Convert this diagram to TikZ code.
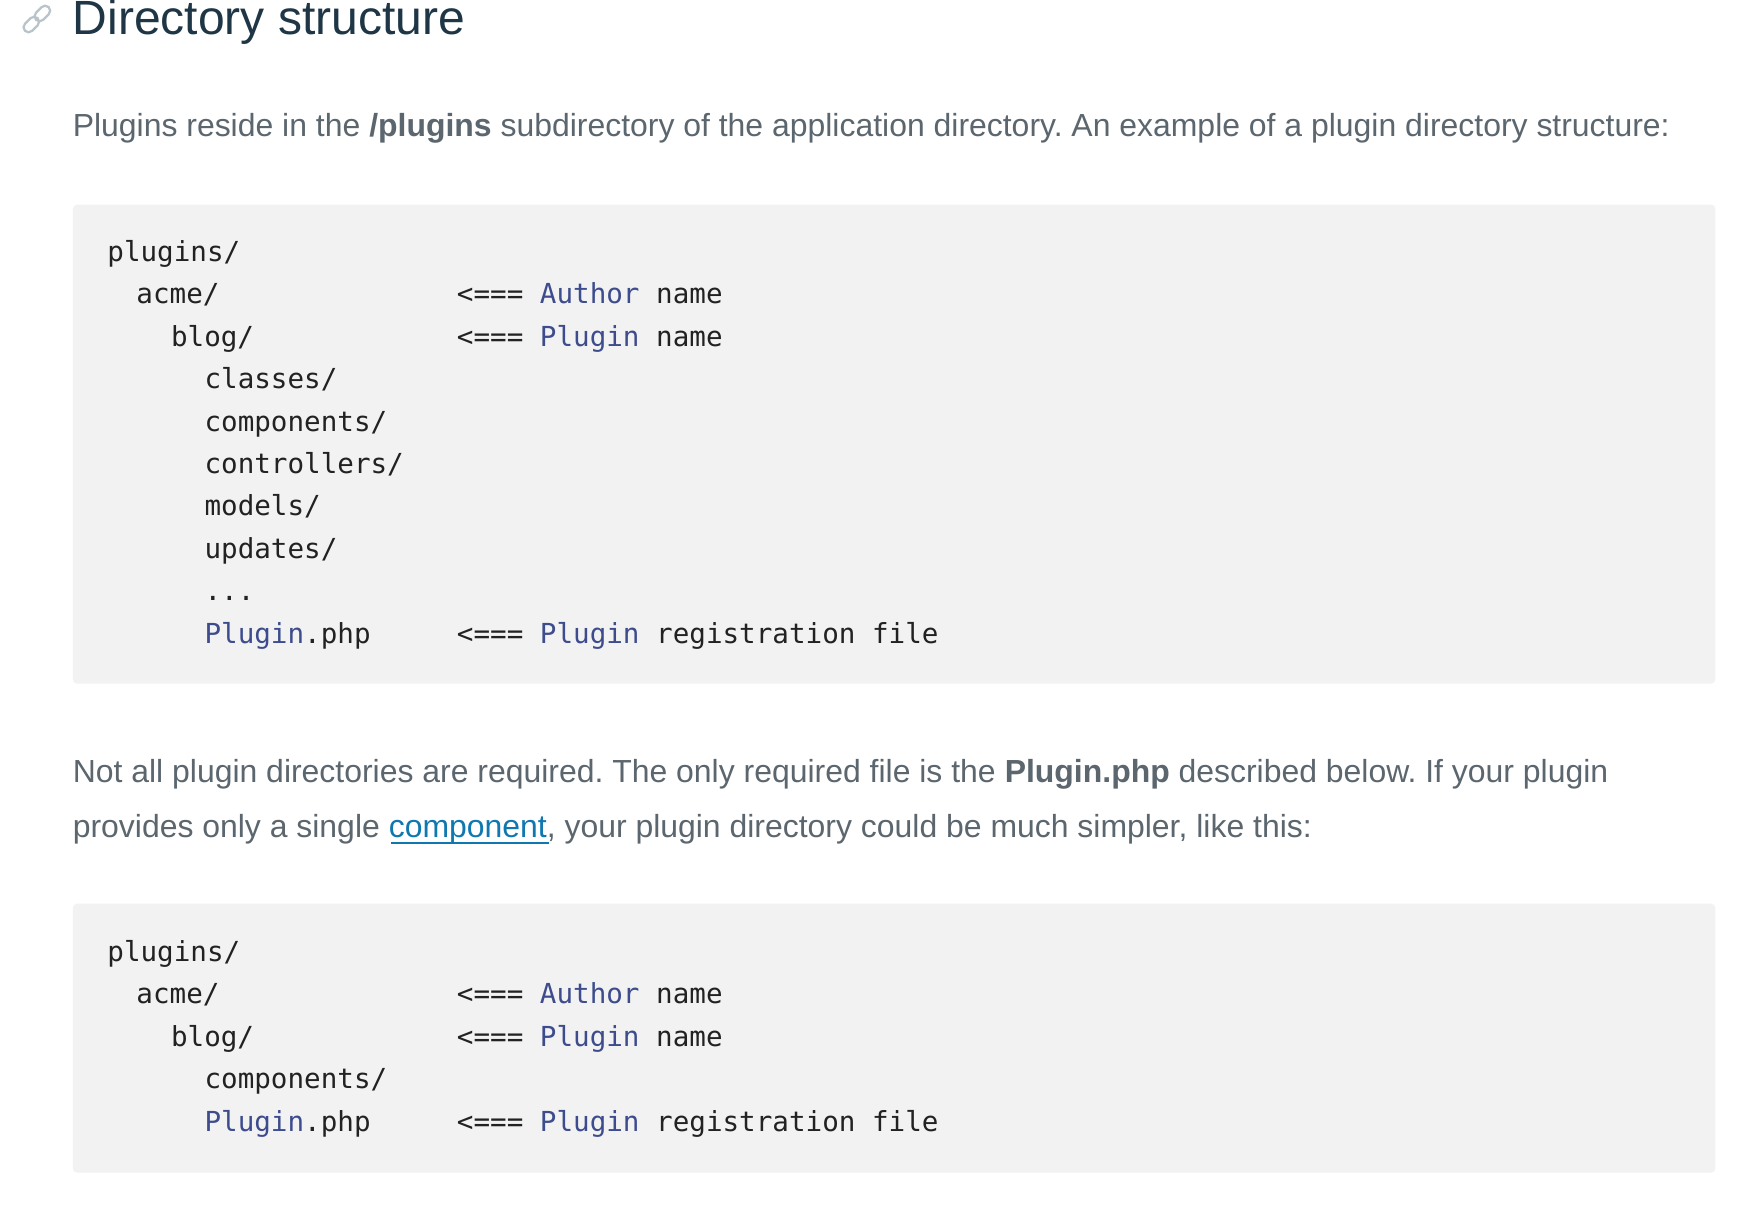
\documentclass[tikz,border=0pt]{standalone}
\usepackage{fontspec}
\setmainfont{Liberation Sans}
\setmonofont{DejaVu Sans Mono}
\begin{document}
\frenchspacing
\begin{tikzpicture}[x=1pt,y=-1pt,
  head/.style={anchor=base west,inner sep=0,text=headc,font=\fontsize{43}{50}\selectfont},
  para/.style={anchor=base west,inner sep=0,text=parac,font=\fontsize{28.6}{34}\selectfont},
  code/.style={anchor=base west,inner sep=0,text=codec,font=\ttfamily\fontsize{24.7}{30}\selectfont},
  codebox/.style={fill=boxc,rounded corners=4pt}]
\definecolor{headc}{HTML}{1E3646}
\definecolor{parac}{HTML}{5B666E}
\definecolor{codec}{HTML}{222222}
\definecolor{kw}{HTML}{3D4C8C}
\definecolor{linkc}{HTML}{1078B0}
\definecolor{boxc}{HTML}{F2F2F2}
\definecolor{iconc}{HTML}{B8C4CA}
\useasboundingbox[fill=white] (0,0) rectangle (1560,1082);
% link icon
\begin{scope}[shift={(33,17)},rotate=45]
  \draw[iconc,line width=2pt,rounded corners=4.5pt] (-15,-4.5) rectangle (1,4.5);
  \draw[iconc,line width=2pt,rounded corners=4.5pt] (-1,-4.5) rectangle (15,4.5);
\end{scope}
\node[head] (h) at (65,31) {Directory structure};
\node[para] (p1) at (65,122) {Plugins reside in the \textbf{/plugins} subdirectory of the application directory. An example of a plugin directory structure:};
\node[codebox,minimum width=1471pt,minimum height=429pt,anchor=north west,inner sep=0] (b1) at (65,183) {};
\node[code] (a1) at (96,234) {plugins/};
\node[code] (a2) at (122,272) {acme/};
\node[code] (a3) at (153,310) {blog/};
\node[code] (a4) at (183,348) {classes/};
\node[code] (a5) at (183,386) {components/};
\node[code] (a6) at (183,424) {controllers/};
\node[code] (a7) at (183,462) {models/};
\node[code] (a8) at (183,500) {updates/};
\node[code] (a9) at (183,538) {...};
\node[code] (a10) at (183,576) {\textcolor{kw}{Plugin}.php};
\node[code] (c2) at (409,272) {<=== \textcolor{kw}{Author} name};
\node[code] (c3) at (409,310) {<=== \textcolor{kw}{Plugin} name};
\node[code] (c10) at (409,576) {<=== \textcolor{kw}{Plugin} registration file};
\node[para] (p2) at (65,701) {Not all plugin directories are required. The only required file is the \textbf{Plugin.php} described below. If your plugin};
\node[para] (p3) at (65,750) {provides only a single \textcolor{linkc}{component}, your plugin directory could be much simpler, like this:};
\node[codebox,minimum width=1471pt,minimum height=241pt,anchor=north west,inner sep=0] (b2) at (65,809) {};
\node[code] (d1) at (96,861) {plugins/};
\node[code] (d2) at (122,899) {acme/};
\node[code] (d3) at (153,937) {blog/};
\node[code] (d4) at (183,975) {components/};
\node[code] (d5) at (183,1013) {\textcolor{kw}{Plugin}.php};
\node[code] (e2) at (409,899) {<=== \textcolor{kw}{Author} name};
\node[code] (e3) at (409,937) {<=== \textcolor{kw}{Plugin} name};
\node[code] (e5) at (409,1013) {<=== \textcolor{kw}{Plugin} registration file};
\coordinate (u1) at (350,755);
\coordinate (u2) at (492,755);
\draw[linkc,line width=1.3pt] (u1) -- (u2);
\end{tikzpicture}
\end{document}
